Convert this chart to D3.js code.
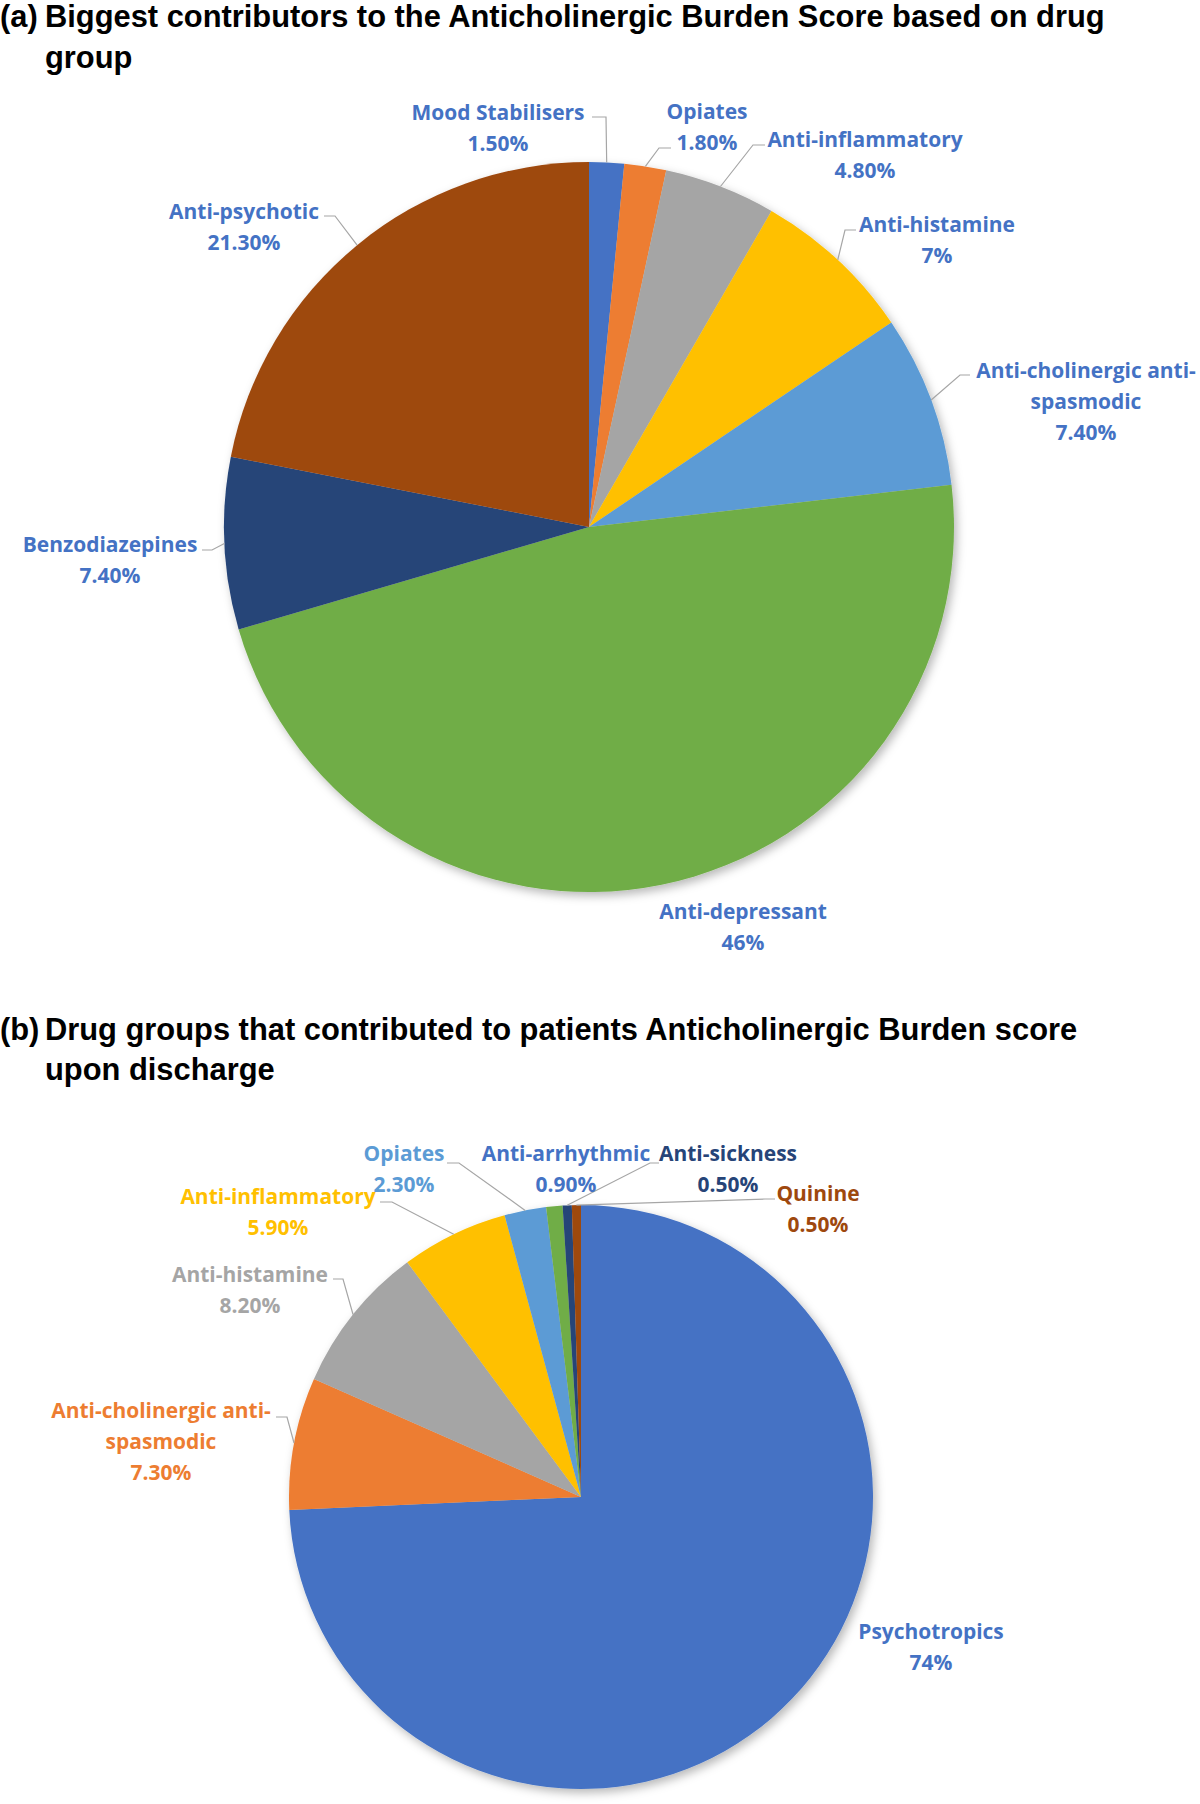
<!DOCTYPE html>
<html>
<head>
<meta charset="utf-8">
<script src="https://cdn.jsdelivr.net/npm/d3@7"></script>
<style>
  html, body { margin: 0; padding: 0; background: #fff; }
  svg { display: block; }
</style>
</head>
<body>
<svg id="chart" width="1200" height="1804"></svg>
<script>
// ---------------- DATA ----------------
const categoriesA = ["Mood Stabilisers", "Opiates", "Anti-inflammatory", "Anti-histamine",
  "Anti-cholinergic anti-spasmodic", "Anti-depressant", "Benzodiazepines", "Anti-psychotic"];
const valuesA = [1.5, 1.8, 4.8, 7, 7.4, 46, 7.4, 21.3];
const valueLabelsA = ["1.50%", "1.80%", "4.80%", "7%", "7.40%", "46%", "7.40%", "21.30%"];

const categoriesB = ["Psychotropics", "Anti-cholinergic anti-spasmodic", "Anti-histamine",
  "Anti-inflammatory", "Opiates", "Anti-arrhythmic", "Anti-sickness", "Quinine"];
const valuesB = [74, 7.3, 8.2, 5.9, 2.3, 0.9, 0.5, 0.5];
const valueLabelsB = ["74%", "7.30%", "8.20%", "5.90%", "2.30%", "0.90%", "0.50%", "0.50%"];

const titleA = ["Biggest contributors to the Anticholinergic Burden Score based on drug", "group"];
const titleB = ["Drug groups that contributed to patients Anticholinergic Burden score", "upon discharge"];

// ---------------- STYLE / LAYOUT ----------------
const paletteA = ["#4472C4", "#ED7D31", "#A5A5A5", "#FFC000", "#5B9BD5", "#70AD47", "#264478", "#9E480E"];
const paletteB = ["#4472C4", "#ED7D31", "#A5A5A5", "#FFC000", "#5B9BD5", "#70AD47", "#264478", "#9E480E"];
const labelColorsA = paletteA.map(() => "#4472C4");
const labelColorsB = ["#4472C4", "#ED7D31", "#A5A5A5", "#FFC000", "#5B9BD5", "#4472C4", "#264478", "#9E480E"];

// label layout: text centre x, first line centre y, text lines, leader start & elbow (null = no leader)
const layoutA = [
  { x: 498, y: 111, lines: ["Mood Stabilisers"], lead: [[592, 117], [606, 117]] },
  { x: 707, y: 110, lines: ["Opiates"], lead: [[671, 148], [659, 148]] },
  { x: 865, y: 138, lines: ["Anti-inflammatory"], lead: [[765, 145], [753, 145]] },
  { x: 937, y: 223, lines: ["Anti-histamine"], lead: [[856, 230], [845, 230]] },
  { x: 1086, y: 369, lines: ["Anti-cholinergic anti-", "spasmodic"], lead: [[970, 375], [960, 375]] },
  { x: 743, y: 910, lines: ["Anti-depressant"], lead: null },
  { x: 110, y: 543, lines: ["Benzodiazepines"], lead: [[202, 550], [212, 550]] },
  { x: 244, y: 210, lines: ["Anti-psychotic"], lead: [[324, 216], [335, 216]] }
];
const layoutB = [
  { x: 931, y: 1630, lines: ["Psychotropics"], lead: null },
  { x: 161, y: 1409, lines: ["Anti-cholinergic anti-", "spasmodic"], lead: [[276, 1417], [287, 1417]] },
  { x: 250, y: 1273, lines: ["Anti-histamine"], lead: [[333, 1279], [343, 1279]] },
  { x: 278, y: 1195, lines: ["Anti-inflammatory"], lead: [[380, 1202], [392, 1202]] },
  { x: 404, y: 1152, lines: ["Opiates"], lead: [[447, 1163], [459, 1163]] },
  { x: 566, y: 1152, lines: ["Anti-arrhythmic"], lead: null },
  { x: 728, y: 1152, lines: ["Anti-sickness"], lead: [[659, 1163], [650, 1163]] },
  { x: 818, y: 1192, lines: ["Quinine"], lead: [[775, 1199], [765, 1199]] }
];

const svg = d3.select("#chart");
const labelFont = "'Open Sans', 'Noto Sans', sans-serif";
const titleFont = "'Liberation Sans', Arial, sans-serif";

// drop shadow
const defs = svg.append("defs");
const f = defs.append("filter").attr("id", "shadow").attr("x", "-10%").attr("y", "-10%")
  .attr("width", "125%").attr("height", "125%");
f.append("feDropShadow").attr("dx", 3).attr("dy", 4).attr("stdDeviation", 5)
  .attr("flood-color", "#000").attr("flood-opacity", 0.28);

// ----- font fitting helpers -----
function measure(text, font, weight, size) {
  const t = svg.append("text").attr("font-family", font).attr("font-weight", weight)
    .attr("font-size", size).text(text);
  const w = t.node().getComputedTextLength();
  t.remove();
  return w;
}
const titleSize = 100 * 1060 / measure(titleA[0], titleFont, "bold", 100);
const labelSize = 22;
const labelScaleX = 173 / measure("Mood Stabilisers", labelFont, "bold", labelSize);

// ----- titles -----
function drawTitle(tag, lines, y1, y2) {
  const g = svg.append("g").attr("font-family", titleFont).attr("font-weight", "bold")
    .attr("font-size", titleSize).attr("fill", "#000");
  g.append("text").attr("x", 0).attr("y", y1).attr("dominant-baseline", "central").text(tag);
  g.append("text").attr("x", 45).attr("y", y1).attr("dominant-baseline", "central").text(lines[0]);
  g.append("text").attr("x", 45).attr("y", y2).attr("dominant-baseline", "central").text(lines[1]);
}
drawTitle("(a)", titleA, 16, 57);
drawTitle("(b)", titleB, 1029, 1069);

// ----- pies -----
function drawPie(values, valueLabels, palette, labelColors, layout, cx, cy, r, lineH) {
  const pie = d3.pie().sort(null).value(d => d).startAngle(0).endAngle(2 * Math.PI);
  const arcs = pie(values);
  const arc = d3.arc().innerRadius(0).outerRadius(r);
  const g = svg.append("g").attr("transform", `translate(${cx},${cy})`);
  g.append("g").attr("filter", "url(#shadow)")
    .selectAll("path").data(arcs).join("path")
    .attr("d", arc).attr("fill", (d, i) => palette[i]);

  // leader lines
  const lineGen = d3.line();
  arcs.forEach((a, i) => {
    const L = layout[i];
    if (!L.lead) return;
    const mid = (a.startAngle + a.endAngle) / 2;
    const end = [cx + r * Math.sin(mid), cy - r * Math.cos(mid)];
    svg.append("path").attr("d", lineGen([L.lead[0], L.lead[1], end]))
      .attr("fill", "none").attr("stroke", "#A6A6A6").attr("stroke-width", 1.2);
  });

  // labels
  arcs.forEach((a, i) => {
    const L = layout[i];
    const lines = L.lines.concat([valueLabels[i]]);
    const t = svg.append("text")
      .attr("transform", `translate(${L.x},0) scale(${labelScaleX},1)`)
      .attr("font-family", labelFont).attr("font-weight", "bold")
      .attr("font-size", labelSize).attr("fill", labelColors[i]).attr("text-anchor", "middle");
    lines.forEach((ln, k) => {
      t.append("tspan").attr("x", 0).attr("y", L.y + k * lineH)
        .attr("dominant-baseline", "central").text(ln);
    });
  });
}

drawPie(valuesA, valueLabelsA, paletteA, labelColorsA, layoutA, 589, 527, 365, 31);
drawPie(valuesB, valueLabelsB, paletteB, labelColorsB, layoutB, 581, 1497, 292, 31);
</script>
</body>
</html>
